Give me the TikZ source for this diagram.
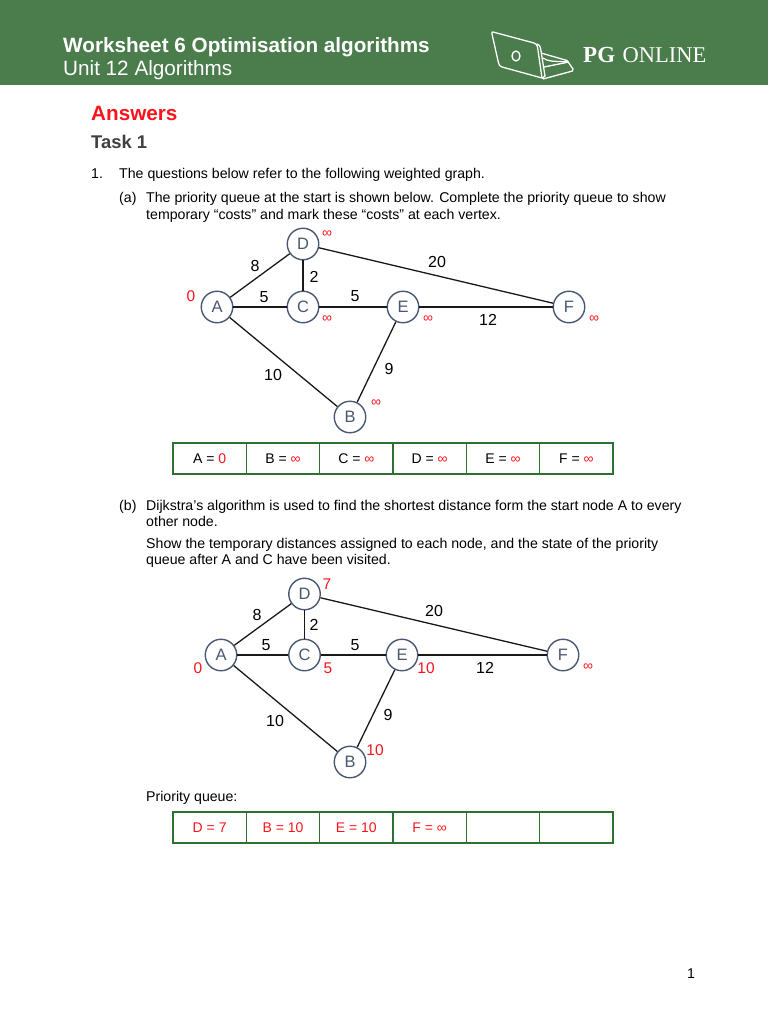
\documentclass[tikz,border=0pt]{standalone}
\usepackage{fontspec}
\setmainfont{Liberation Sans}
\newfontfamily\logofont{Liberation Serif}
\usetikzlibrary{positioning}
\definecolor{headgreen}{RGB}{74,124,76}
\definecolor{cellgreen}{RGB}{46,112,50}
\definecolor{nodeblue}{RGB}{72,88,112}
\definecolor{markred}{RGB}{250,20,28}
\newcommand{\bodysize}{\fontsize{14.15}{16}\selectfont}
\tikzset{
  txt/.style={anchor=base west,inner sep=0pt,font=\bodysize},
  vertex/.style={circle,draw=nodeblue,line width=1.4pt,fill=white,text=nodeblue,minimum size=31.5pt,inner sep=0pt,font=\fontsize{16.5}{18}\selectfont},
  edge/.style={line width=1.3pt,black!90},
  weight/.style={inner sep=0pt,font=\fontsize{16}{18}\selectfont},
  cost/.style={inner sep=0pt,text=markred,font=\fontsize{15.5}{17}\selectfont},
  inf/.style={inner sep=0pt,text=markred,font=\fontsize{14}{16}\selectfont},
  qcell/.style={draw=cellgreen,line width=1.3pt,outer sep=0pt,minimum width=73.33pt,minimum height=31pt,inner sep=0pt,font=\fontsize{14}{16}\selectfont},
  logoline/.style={white,line width=1.3pt,line join=round}
}
\begin{document}
\begin{tikzpicture}[x=1pt,y=-1pt]
  \useasboundingbox (0,0) rectangle (768,1024);
  % header
  \fill[headgreen] (0,0) rectangle (768,85.5);
  \node[txt,text=white,font=\bfseries\fontsize{20.7}{24}\selectfont] (title) at (63,53) {Worksheet 6 Optimisation algorithms};
  \node[txt,text=white,font=\fontsize{20.7}{24}\selectfont] (unit) at (63,76) {Unit 12 Algorithms};
  \draw[logoline] (493,32) -- (534,43) .. controls (536,43.5) and (537,45) .. (537.500,47) -- (542,78) -- (502,67) .. controls (500,66.5) and (499,65) .. (498.500,63) -- (492,34) .. controls (491.500,32.500) and (492,31.700) .. (493,32);
  \draw[logoline] (537,44) .. controls (539,44.5) and (540,46) .. (540.500,48) -- (545,76) -- (542,78.500);
  \draw[logoline] (541,53) -- (567,60.500) -- (573,69) -- (572.500,71) -- (543,79);
  \draw[logoline] (543,58) .. controls (549,62) and (553,61) .. (568,62);
  \draw[logoline] (544,67) -- (569,62);
  \draw[logoline] (516,56) circle (4 and 5);
  \node[txt,text=white,font=\logofont\bfseries\fontsize{23}{25}\selectfont] (pg) at (583,63) {PG};
  \node[txt,text=white,font=\logofont\fontsize{22.5}{25}\selectfont,right=7pt of pg.base east,anchor=base west] (online) {ONLINE};
  % headings
  \node[txt,text=markred,font=\bfseries\fontsize{20.7}{24}\selectfont] (answers) at (91,121) {Answers};
  \node[txt,text=black!75,font=\bfseries\fontsize{18.4}{22}\selectfont] (task) at (91,149) {Task 1};
  \node[txt] (n1) at (91,179) {1.};
  \node[txt] (q1) at (119,179) {The questions below refer to the following weighted graph.};
  \node[txt] (pa) at (119,203) {(a)};
  \node[txt] (a1) at (146,203) {The priority queue at the start is shown below. Complete the priority queue to show};
  \node[txt] (a2) at (146,219) {temporary “costs” and mark these “costs” at each vertex.};
  % first graph
  \node[vertex] (A1) at (217,307) {A};
  \node[vertex] (B1) at (350,417) {B};
  \node[vertex] (C1) at (303,307) {C};
  \node[vertex] (D1) at (303,244) {D};
  \node[vertex] (E1) at (403,307) {E};
  \node[vertex] (F1) at (569,307) {F};
  \draw[edge] (A1) -- (D1);
  \draw[edge] (A1) -- (C1);
  \draw[edge] (A1) -- (B1);
  \draw[edge] (D1) -- (C1);
  \draw[edge] (D1) -- (F1);
  \draw[edge] (C1) -- (E1);
  \draw[edge] (E1) -- (F1);
  \draw[edge] (E1) -- (B1);
  \node[weight] (w1) at (255,266) {8};
  \node[weight] (w2) at (264,297) {5};
  \node[weight] (w3) at (314,277) {2};
  \node[weight] (w4) at (355,296) {5};
  \node[weight] (w5) at (437,262) {20};
  \node[weight] (w6) at (488,320) {12};
  \node[weight] (w7) at (273,375) {10};
  \node[weight] (w8) at (389,369) {9};
  \node[cost] (cA1) at (191,296) {0};
  \node[inf] (cB1) at (376,403) {∞};
  \node[inf] (cC1) at (327,319) {∞};
  \node[inf] (cD1) at (327,234) {∞};
  \node[inf] (cE1) at (428,319) {∞};
  \node[inf] (cF1) at (594,319) {∞};
  % first queue
  \node[qcell] (qa1) at (209.670,458.500) {A = \textcolor{markred}{0}};
  \node[qcell,right=0pt of qa1] (qa2) {B = \textcolor{markred}{∞}};
  \node[qcell,right=0pt of qa2] (qa3) {C = \textcolor{markred}{∞}};
  \node[qcell,right=0pt of qa3] (qa4) {D = \textcolor{markred}{∞}};
  \node[qcell,right=0pt of qa4] (qa5) {E = \textcolor{markred}{∞}};
  \node[qcell,right=0pt of qa5] (qa6) {F = \textcolor{markred}{∞}};
  % part b
  \node[txt] (pb) at (119,510) {(b)};
  \node[txt] (b1) at (146,510) {Dijkstra’s algorithm is used to find the shortest distance form the start node A to every};
  \node[txt] (b2) at (146,526) {other node.};
  \node[txt] (b3) at (146,548) {Show the temporary distances assigned to each node, and the state of the priority};
  \node[txt] (b4) at (146,564) {queue after A and C have been visited.};
  % second graph
  \node[vertex] (A2) at (221,655) {A};
  \node[vertex] (B2) at (350,762) {B};
  \node[vertex] (C2) at (304.500,655) {C};
  \node[vertex] (D2) at (304.500,594) {D};
  \node[vertex] (E2) at (402,655) {E};
  \node[vertex] (F2) at (563,655) {F};
  \draw[edge] (A2) -- (D2);
  \draw[edge] (A2) -- (C2);
  \draw[edge] (A2) -- (B2);
  \draw[edge] (D2) -- (C2);
  \draw[edge] (D2) -- (F2);
  \draw[edge] (C2) -- (E2);
  \draw[edge] (E2) -- (F2);
  \draw[edge] (E2) -- (B2);
  \node[weight] (x1) at (257,615) {8};
  \node[weight] (x2) at (266,645) {5};
  \node[weight] (x3) at (314,625) {2};
  \node[weight] (x4) at (355,645) {5};
  \node[weight] (x5) at (434,611) {20};
  \node[weight] (x6) at (485,668) {12};
  \node[weight] (x7) at (275,721) {10};
  \node[weight] (x8) at (388,715) {9};
  \node[cost] (cA2) at (198,668) {0};
  \node[cost] (cB2) at (375,750) {10};
  \node[cost] (cC2) at (328,668) {5};
  \node[cost] (cD2) at (327,584) {7};
  \node[cost] (cE2) at (426,668) {10};
  \node[inf] (cF2) at (588,667) {∞};
  \node[txt] (pq) at (146,801) {Priority queue:};
  % second queue
  \tikzset{qcell/.append style={text=markred}}
  \node[qcell] (qb1) at (209.670,827.500) {D = 7};
  \node[qcell,right=0pt of qb1] (qb2) {B = 10};
  \node[qcell,right=0pt of qb2] (qb3) {E = 10};
  \node[qcell,right=0pt of qb3] (qb4) {F = ∞};
  \node[qcell,right=0pt of qb4] (qb5) {};
  \node[qcell,right=0pt of qb5] (qb6) {};
  \node[txt] (page) at (687,978) {1};
\end{tikzpicture}
\end{document}
